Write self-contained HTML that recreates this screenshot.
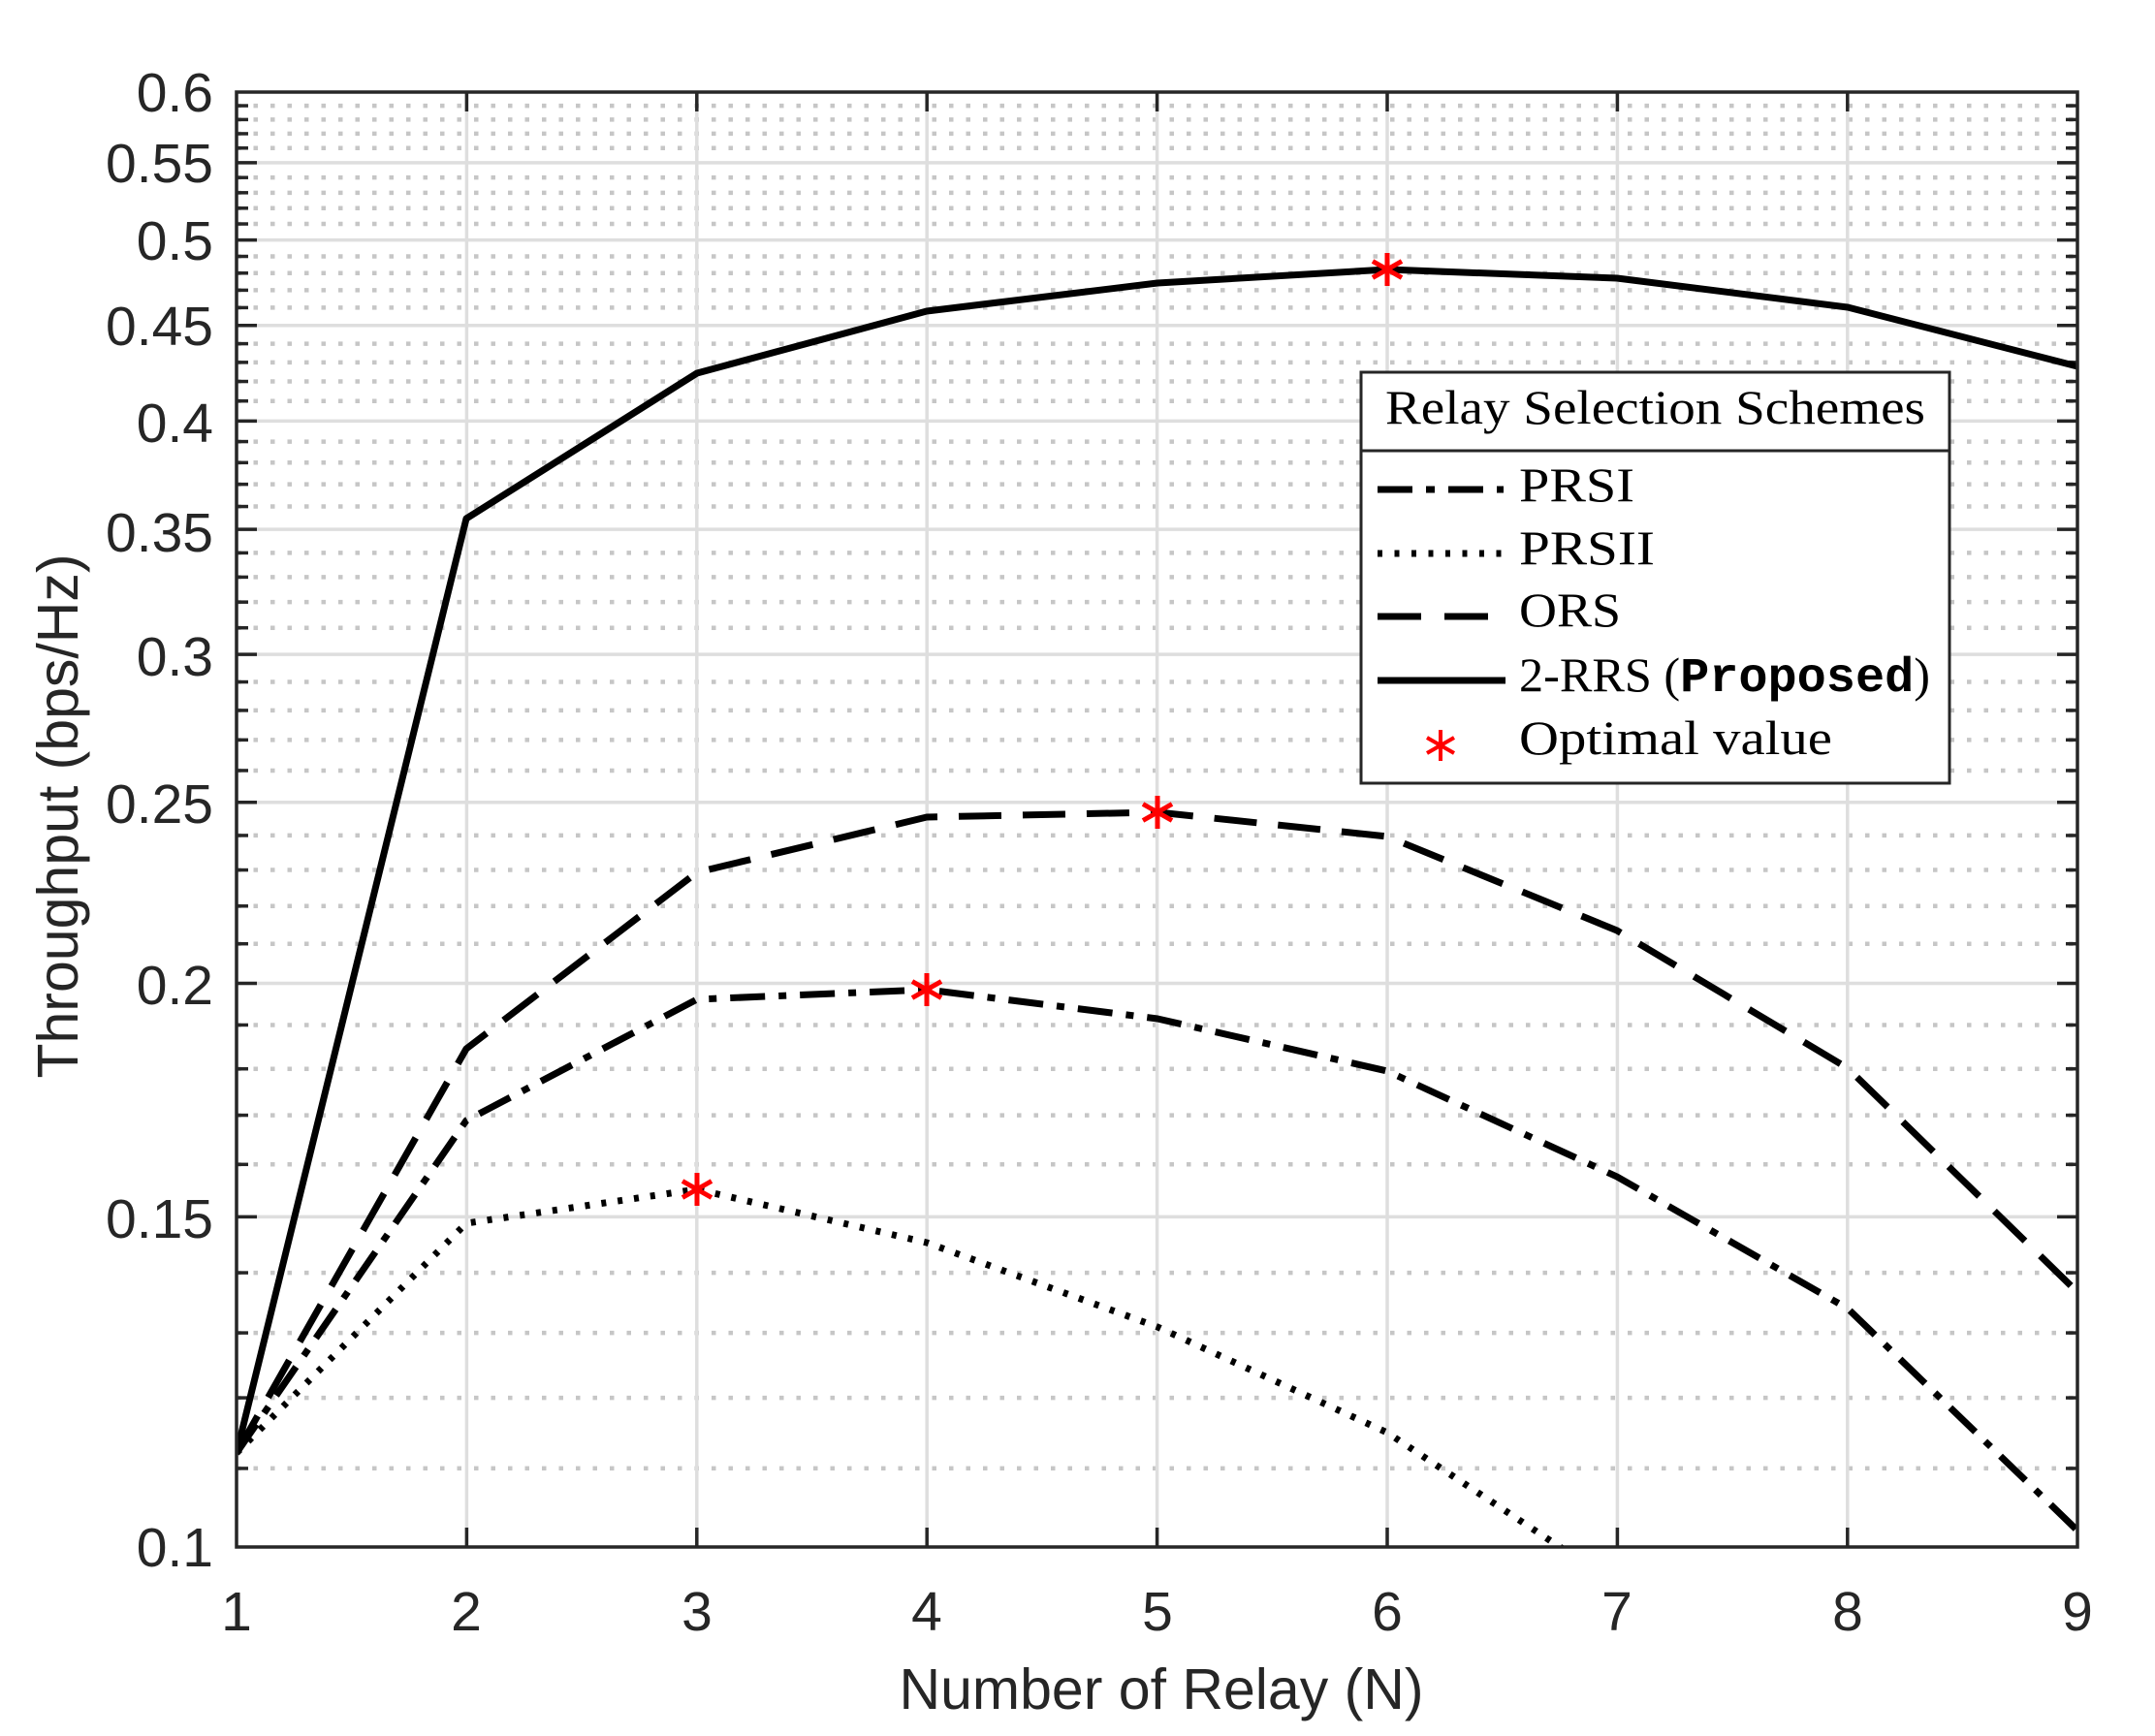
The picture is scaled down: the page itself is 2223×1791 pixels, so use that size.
<!DOCTYPE html>
<html><head><meta charset="utf-8">
<style>
html,body{margin:0;padding:0;background:#fff;}
svg{display:block;}
.tk{font-family:"Liberation Sans",Arial,sans-serif;font-size:57px;fill:#262626;}
.lb{font-family:"Liberation Sans",Arial,sans-serif;font-size:59px;fill:#262626;}
.lg{font-family:"Liberation Serif","Times New Roman",serif;font-size:50px;fill:#000;}
</style></head>
<body>
<svg id="s" width="2223" height="1791" viewBox="0 0 2223 1791" xmlns="http://www.w3.org/2000/svg">
<rect width="2223" height="1791" fill="#fff"/>
<g id="grid"></g>
<g id="ticks"></g>
<defs><clipPath id="cp"><rect x="244" y="95" width="1899" height="1501"/></clipPath></defs>
<g clip-path="url(#cp)" fill="none" stroke="#000" stroke-width="7" stroke-linejoin="round">
<polyline points="244,1499 481,535 719,385 956,321 1194,292 1431,278 1668,287 1906,317 2143,378"/>
<polyline stroke-dasharray="44,22" points="244,1499 481,1082 719,900 956,843 1194,838 1431,863 1668,960 1906,1102 2143,1333"/>
<polyline stroke-dasharray="36,14,8,14" points="244,1499 481,1156 719,1031 956,1021 1194,1051 1431,1105 1668,1214 1906,1350 2143,1579"/>
<polyline stroke-dasharray="5,12" points="244,1499 481,1262 719,1227 956,1282 1194,1369 1431,1478 1668,1635"/>
</g>
<g id="stars"></g>
<rect x="244" y="95" width="1899" height="1501" fill="none" stroke="#262626" stroke-width="3.5"/>
<g class="tk" text-anchor="end">
<text x="220" y="115">0.6</text><text x="220" y="188">0.55</text><text x="220" y="268">0.5</text>
<text x="220" y="356">0.45</text><text x="220" y="456">0.4</text><text x="220" y="569">0.35</text>
<text x="220" y="697">0.3</text><text x="220" y="849">0.25</text><text x="220" y="1036">0.2</text>
<text x="220" y="1277">0.15</text><text x="220" y="1616">0.1</text>
</g>
<g class="tk" text-anchor="middle">
<text x="244" y="1682">1</text><text x="481" y="1682">2</text><text x="719" y="1682">3</text>
<text x="956" y="1682">4</text><text x="1194" y="1682">5</text><text x="1431" y="1682">6</text>
<text x="1668" y="1682">7</text><text x="1906" y="1682">8</text><text x="2143" y="1682">9</text>
</g>
<g class="lb" text-anchor="middle">
<text x="1198" y="1763">Number of Relay (N)</text>
<text transform="translate(80,842) rotate(-90)" x="0" y="0">Throughput (bps/Hz)</text>
</g>
<rect x="1404" y="384" width="607" height="424" fill="#fff" stroke="#262626" stroke-width="3"/>
<line x1="1404" y1="465" x2="2011" y2="465" stroke="#262626" stroke-width="3"/>
<text class="lg" x="1429" y="437" font-size="52" textLength="557" lengthAdjust="spacingAndGlyphs">Relay Selection Schemes</text>
<g stroke="#000" stroke-width="7">
<line x1="1421" y1="505" x2="1551" y2="505" stroke-dasharray="36,14,9,14"/>
<line x1="1421" y1="571" x2="1551" y2="571" stroke-dasharray="5,12.5"/>
<line x1="1421" y1="636" x2="1551" y2="636" stroke-dasharray="45,24"/>
<line x1="1421" y1="702" x2="1553" y2="702"/>
</g>
<g stroke="#ff0000" stroke-width="4">
<line x1="1486" y1="753" x2="1486" y2="785"/><line x1="1472" y1="761" x2="1500" y2="777"/><line x1="1472" y1="777" x2="1500" y2="761"/>
</g>
<text class="lg" x="1567" y="517" textLength="119" lengthAdjust="spacingAndGlyphs">PRSI</text>
<text class="lg" x="1567" y="582" textLength="140" lengthAdjust="spacingAndGlyphs">PRSII</text>
<text class="lg" x="1567" y="646" textLength="105" lengthAdjust="spacingAndGlyphs">ORS</text>
<text class="lg" x="1567" y="713" textLength="424" lengthAdjust="spacingAndGlyphs">2-RRS (<tspan font-family="Liberation Mono,monospace" font-weight="bold">Proposed</tspan>)</text>
<text class="lg" x="1567" y="778" textLength="323" lengthAdjust="spacingAndGlyphs">Optimal value</text>
</svg>
<script>
(function(){
var NS="http://www.w3.org/2000/svg";
function Y(v){return 95+837*Math.log(0.6/v);}
var g=document.getElementById("grid"),t=document.getElementById("ticks"),st=document.getElementById("stars");
function ln(p,x1,y1,x2,y2,c,w,d){var l=document.createElementNS(NS,"line");l.setAttribute("x1",x1);l.setAttribute("y1",y1);l.setAttribute("x2",x2);l.setAttribute("y2",y2);l.setAttribute("stroke",c);l.setAttribute("stroke-width",w);if(d)l.setAttribute("stroke-dasharray",d);p.appendChild(l);}
for(var i=11;i<60;i++){if(i%5==0)continue;var y=Y(i/100);ln(g,244,y,2143,y,"#c6c6c6",4.5,"4.5,13");ln(t,244,y,256,y,"#262626",3.5);ln(t,2143,y,2131,y,"#262626",3.5);}
for(var i=15;i<=55;i+=5){var y=Y(i/100);ln(g,244,y,2143,y,"#dedede",3.5);ln(t,244,y,265,y,"#262626",3.5);ln(t,2143,y,2122,y,"#262626",3.5);}
for(var n=2;n<=8;n++){var x=244+237.4*(n-1);ln(g,x,95,x,1596,"#dedede",3.5);ln(t,x,1596,x,1576,"#262626",3.5);ln(t,x,95,x,115,"#262626",3.5);}
var S=[[1431,278],[1194,838],[956,1021],[719,1227]];
S.forEach(function(p){var x=p[0],y=p[1];ln(st,x,y-17,x,y+17,"#ff0000",5);ln(st,x-15,y-8.5,x+15,y+8.5,"#ff0000",5);ln(st,x-15,y+8.5,x+15,y-8.5,"#ff0000",5);});
})();
</script>
</body></html>
